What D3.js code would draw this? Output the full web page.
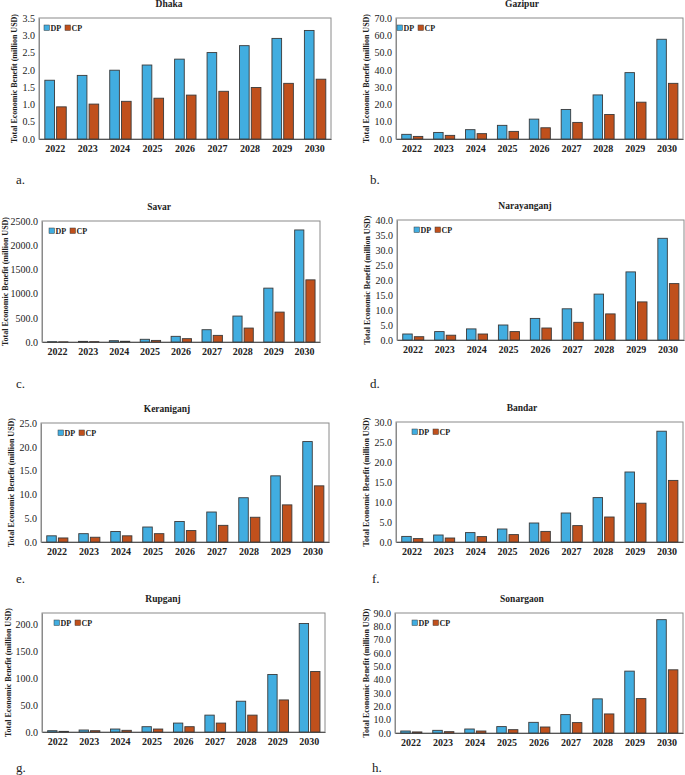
<!DOCTYPE html>
<html>
<head>
<meta charset="utf-8">
<script src="https://cdn.jsdelivr.net/npm/d3@7"></script>
<style>
  body { margin: 0; background: #fff; }
  svg { display: block; }
  text { font-family: "Liberation Serif", "Times New Roman", serif; fill: #222; }
</style>
</head>
<body>
<script>
const years = ['2022','2023','2024','2025','2026','2027','2028','2029','2030']
const districts = ['Dhaka','Gazipur','Savar','Narayanganj','Keraniganj','Bandar','Rupganj','Sonargaon']
const letters = ['a.','b.','c.','d.','e.','f.','g.','h.']

const dhakaDP = [1.70, 1.84, 1.99, 2.14, 2.31, 2.50, 2.70, 2.91, 3.14]
const dhakaCP = [0.93, 1.01, 1.09, 1.18, 1.27, 1.38, 1.49, 1.61, 1.73]
const gazipurDP = [2.7, 3.8, 5.4, 7.9, 11.5, 17.1, 25.5, 38.4, 57.7]
const gazipurCP = [1.5, 2.1, 3.1, 4.4, 6.5, 9.6, 14.2, 21.3, 32.2]
const savarDP = [6.2, 13.0, 27.0, 56.0, 117.0, 254.0, 536.0, 1113.0, 2315.0]
const savarCP = [3.4, 7.0, 15.0, 33.0, 69.0, 137.0, 288.0, 618.0, 1284.0]
const narayanganjDP = [2.0, 2.8, 3.7, 5.0, 7.2, 10.4, 15.3, 22.7, 33.9]
const narayanganjCP = [1.1, 1.6, 2.0, 2.8, 4.0, 5.9, 8.7, 12.7, 18.8]
const keraniganjDP = [1.3, 1.75, 2.2, 3.15, 4.3, 6.3, 9.3, 13.9, 21.1]
const keraniganjCP = [0.85, 1.0, 1.3, 1.75, 2.4, 3.5, 5.2, 7.8, 11.8]
const bandarDP = [1.4, 1.75, 2.35, 3.25, 4.75, 7.25, 11.1, 17.5, 27.7]
const bandarCP = [0.85, 1.0, 1.35, 1.85, 2.65, 4.1, 6.25, 9.7, 15.4]
const rupganjDP = [2.4, 3.7, 5.5, 9.8, 16.5, 31.2, 56.9, 106.4, 200.6]
const rupganjCP = [1.2, 2.4, 3.1, 5.5, 9.8, 16.5, 31.2, 59.3, 111.9]
const sonargaonDP = [1.5, 2.0, 3.0, 4.8, 8.0, 13.8, 25.6, 46.4, 85.0]
const sonargaonCP = [0.8, 1.0, 1.5, 2.5, 4.5, 7.8, 14.3, 25.8, 47.4]

const dpSeries = [dhakaDP, gazipurDP, savarDP, narayanganjDP, keraniganjDP, bandarDP, rupganjDP, sonargaonDP]
const cpSeries = [dhakaCP, gazipurCP, savarCP, narayanganjCP, keraniganjCP, bandarCP, rupganjCP, sonargaonCP]
const yMax = [3.5, 70, 2500, 40, 25, 30, 220, 90]
const yStep = [0.5, 10, 500, 5, 5, 5, 50, 10]
const seriesNames = ['DP','CP']

// layout: plot box, title x, y label x, legend offset, letter position
const layout = [
  {l:39,  r:331, t:18,  b:139, tx:169, lx:14,  leg:8,  px:16,  py:184},
  {l:396, r:683, t:18,  b:139, tx:522, lx:366, leg:4,  px:370, py:184},
  {l:42,  r:320, t:221, b:342, tx:159, lx:5,   leg:10, px:16,  py:388},
  {l:397, r:684, t:220, b:340, tx:525, lx:367, leg:20, px:370, py:388},
  {l:41,  r:329, t:423, b:542, tx:167, lx:11,  leg:20, px:16,  py:583},
  {l:396, r:683, t:422, b:542, tx:522, lx:366, leg:19, px:372, py:583},
  {l:42,  r:325, t:613, b:732, tx:163, lx:8,   leg:15, px:16,  py:772},
  {l:395, r:683, t:613, b:733, tx:522, lx:366, leg:20, px:372, py:772}
]

const colors = {DP:'#41ade0', CP:'#c0501c'}
const serif = '"Liberation Serif", "Times New Roman", serif'

const svg = d3.select('body').append('svg')
  .attr('width', 685)
  .attr('height', 775)

let drawPanel = (i) => {
  let L = layout[i]
  let g = svg.append('g')

  let x0 = d3.scaleBand().domain(years).range([L.l, L.r]).padding(0)
  let x1 = d3.scaleBand().domain(seriesNames)
    .range([0.18 * x0.bandwidth(), 0.84 * x0.bandwidth()])
    .paddingInner(0.18)
  let y = d3.scaleLinear().domain([0, yMax[i]]).range([L.b, L.t])

  // frame
  g.append('rect')
    .attr('x', L.l).attr('y', L.t)
    .attr('width', L.r - L.l).attr('height', L.b - L.t)
    .attr('fill', 'none').attr('stroke', '#8a8a8a').attr('stroke-width', 1)

  let ticks = d3.range(0, yMax[i] + yStep[i] / 2, yStep[i])
  let yAxis = d3.axisLeft(y).tickValues(ticks).tickFormat(d3.format('.1f')).tickSize(0).tickPadding(4)
  let ya = g.append('g').attr('transform', `translate(${L.l},0)`).call(yAxis)
  ya.attr('font-family', serif)
  ya.select('.domain').attr('stroke', '#8a8a8a')
  ya.selectAll('text').style('font-size', '10px').style('font-family', serif).attr('fill', '#222')

  let xAxis = d3.axisBottom(x0).tickSize(0).tickPadding(6)
  let xa = g.append('g').attr('transform', `translate(0,${L.b})`).call(xAxis)
  xa.attr('font-family', serif)
  xa.select('.domain').attr('stroke', '#555')
  xa.selectAll('text').style('font-size', '10px').style('font-weight', 'bold')
    .style('font-family', serif).attr('fill', '#222')

  // bars
  years.forEach((yr, k) => {
    let vals = [dpSeries[i][k], cpSeries[i][k]]
    seriesNames.forEach((s, j) => {
      g.append('rect')
        .attr('x', x0(yr) + x1(s))
        .attr('y', y(vals[j]))
        .attr('width', x1.bandwidth())
        .attr('height', L.b - y(vals[j]))
        .attr('fill', colors[s])
        .attr('stroke', '#3a3a3a')
        .attr('stroke-width', 0.9)
    })
  })

  // title
  g.append('text')
    .attr('x', L.tx).attr('y', L.t - 11)
    .attr('text-anchor', 'middle')
    .style('font-size', '9.5px').style('font-weight', 'bold')
    .text(districts[i])

  // y label
  g.append('text')
    .attr('transform', `translate(${L.lx},${(L.t + L.b) / 2}) rotate(-90)`)
    .attr('text-anchor', 'middle')
    .attr('dy', '0.35em')
    .style('font-size', '8px').style('font-weight', 'bold')
    .text('Total Economic Benefit (million USD)')

  // legend
  let lg = g.append('g').attr('transform', `translate(${L.l + L.leg},${L.t + 10})`)
  seriesNames.forEach((s, j) => {
    lg.append('rect')
      .attr('x', j * 21 - 3).attr('y', -3)
      .attr('width', 5.5).attr('height', 5.5)
      .attr('fill', colors[s]).attr('stroke', '#3a3a3a').attr('stroke-width', 0.5)
    lg.append('text')
      .attr('x', j * 21 + 3.5).attr('y', 0)
      .attr('dy', '0.35em')
      .style('font-size', '8px').style('font-weight', 'bold')
      .text(s)
  })

  // panel letter
  g.append('text')
    .attr('x', L.px).attr('y', L.py)
    .style('font-size', '13px')
    .text(letters[i])
}

districts.forEach((d, i) => drawPanel(i))
</script>
</body>
</html>
